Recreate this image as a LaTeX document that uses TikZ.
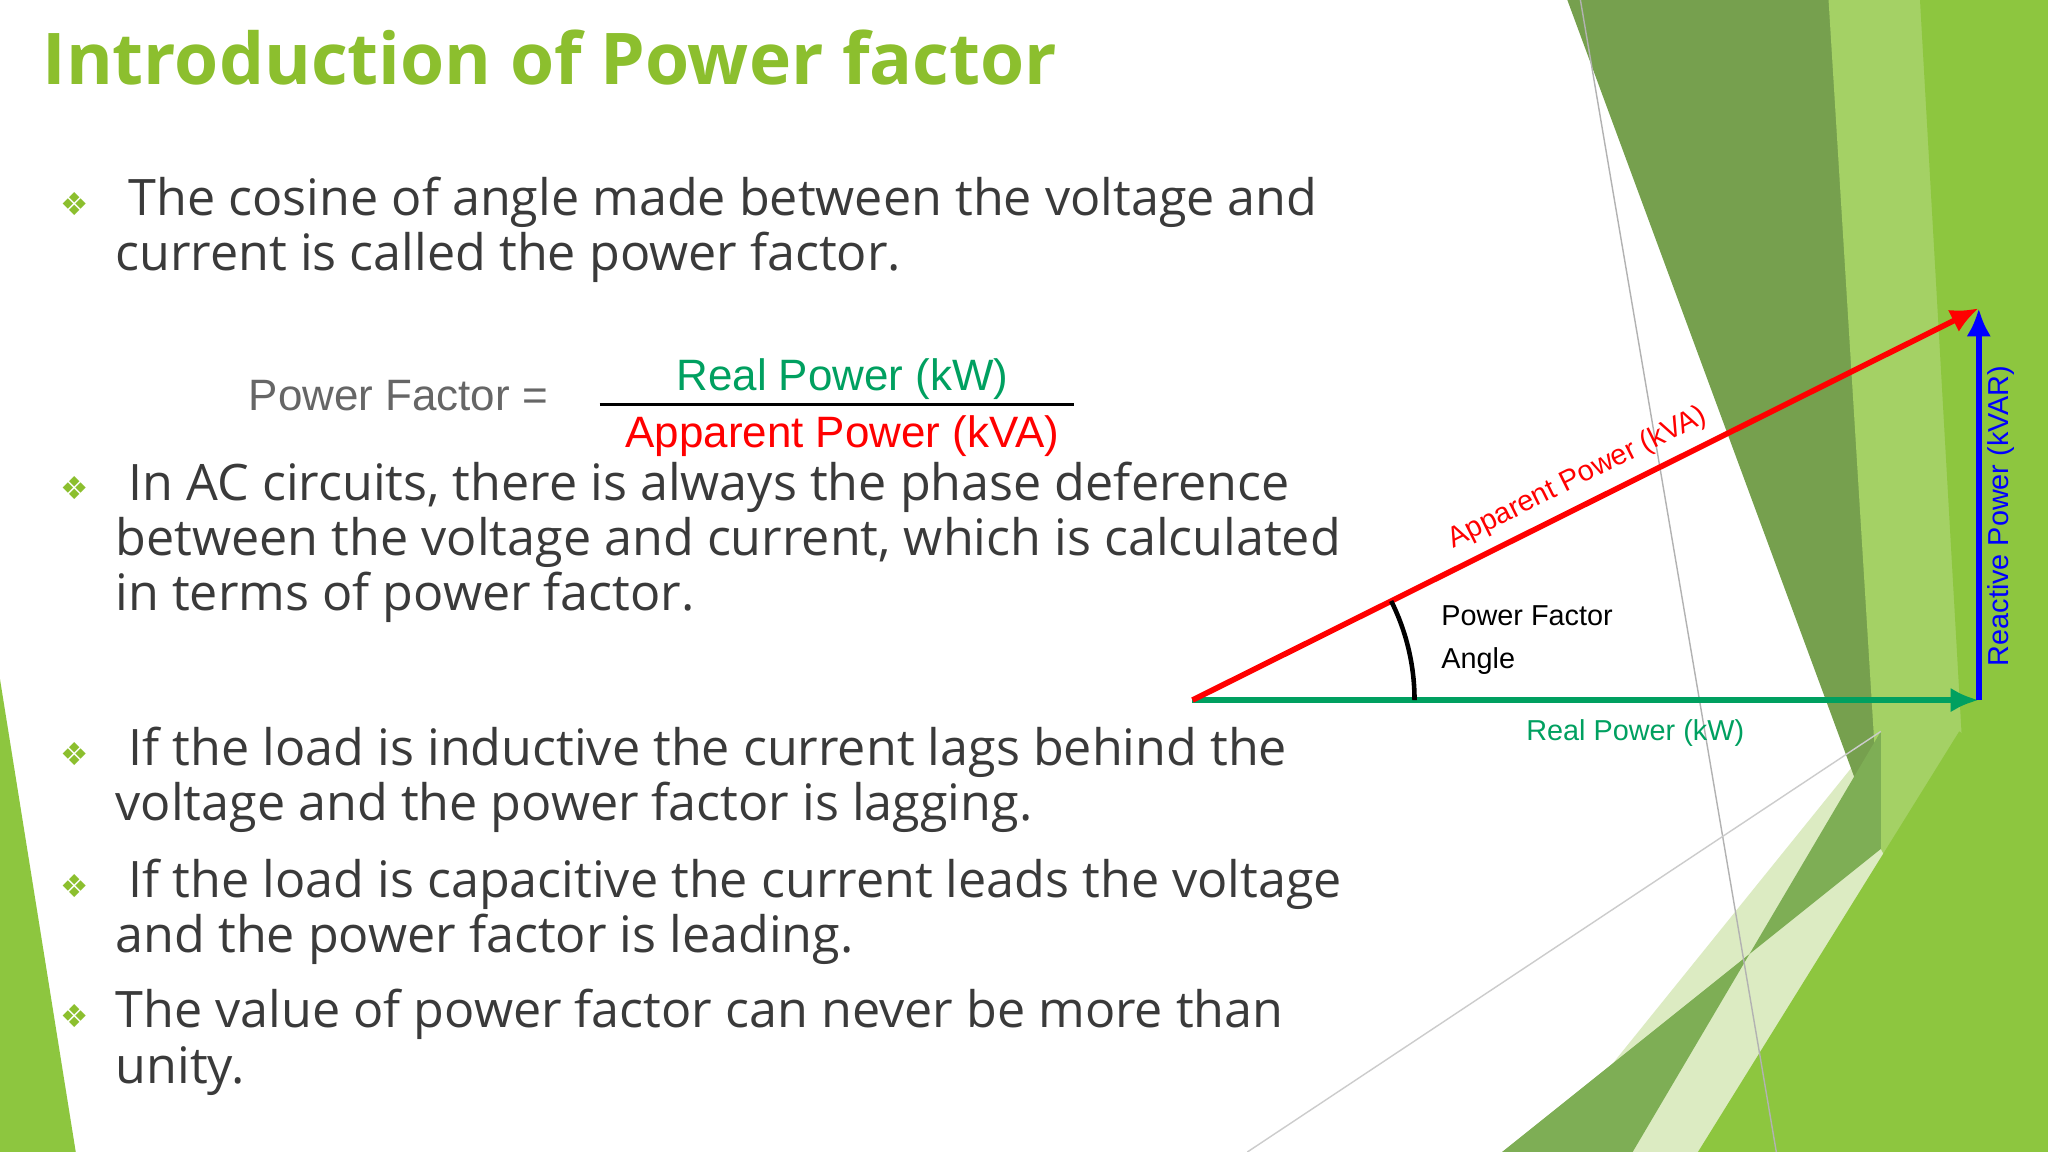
\documentclass[tikz,border=0pt]{standalone}
\usepackage{fontspec}
\usetikzlibrary{arrows.meta}
\setmainfont{Open Sans}
\newfontfamily\arialf{Liberation Sans}
\newfontfamily\dejavu{DejaVu Sans}
\definecolor{titlegreen}{HTML}{8CBF2E}
\definecolor{bodygray}{HTML}{3A3A3A}
\definecolor{pgreen}{HTML}{00A060}
\definecolor{dgreen}{HTML}{76A04E}
\definecolor{bgreen}{HTML}{8DC63F}
\definecolor{lgreen}{HTML}{C5DE9A}
\definecolor{mgreen}{HTML}{5E9A2A}
\tikzset{
  body/.style={anchor=north west,align=left,text=bodygray,font=\fontsize{14.3}{15.7}\selectfont,inner sep=0pt},
  bul/.style={text=titlegreen,font=\dejavu\fontsize{9}{9}\selectfont,inner sep=0pt},
  dlab/.style={font=\arialf\fontsize{8.2}{9}\selectfont,inner sep=0pt},
  flab/.style={font=\arialf\fontsize{12.5}{14}\selectfont,inner sep=0pt}
}
\begin{document}
\begin{tikzpicture}[x=0.013061cm,y=-0.013061cm]
\useasboundingbox (0,0) rectangle (1568,882);
\fill[white] (0,0) rectangle (1568,882);
% decorations right
\fill[lgreen!60] (1180,882) -- (1440,560) -- (1568,500) -- (1568,882) -- cycle;
\fill[dgreen] (1200,0) -- (1430,0) -- (1440,650) -- cycle;
\fill[bgreen!80] (1400,0) -- (1568,0) -- (1568,882) -- (1440,650) -- cycle;
\fill[bgreen] (1470,0) -- (1568,0) -- (1568,882) -- (1520,882) -- cycle;
\fill[mgreen!80] (1440,560) -- (1440,650) -- (1150,882) -- (1250,882) -- cycle;
\fill[bgreen] (1300,882) -- (1500,560) -- (1568,600) -- (1568,882) -- cycle;
\draw[gray!60,thin] (1210,0) -- (1360,882);
\draw[gray!40,thin] (955,882) -- (1440,560);
% left deco
\fill[bgreen] (0,520) -- (58,882) -- (0,882) -- cycle;
% title
\node[anchor=west,text=titlegreen,font=\bfseries\fontsize{20.3}{24}\selectfont,inner sep=0pt] (title) at (32,44) {Introduction of Power factor};
% bullets
\node[bul] (b1) at (57,156) {❖};
\node[body] (t1) at (88,135) {\ The cosine of angle made between the voltage and\\current is called the power factor.};
\node[bul] (b2) at (57,374) {❖};
\node[body] (t2) at (88,353) {\ In AC circuits, there is always the phase deference\\between the voltage and current, which is calculated\\in terms of power factor.};
\node[bul] (b3) at (57,577) {❖};
\node[body] (t3) at (88,556) {\ If the load is inductive the current lags behind the\\voltage and the power factor is lagging.};
\node[bul] (b4) at (57,678) {❖};
\node[body] (t4) at (88,657) {\ If the load is capacitive the current leads the voltage\\and the power factor is leading.};
\node[bul] (b5) at (57,778) {❖};
\node[body] (t5) at (88,757) {The value of power factor can never be more than\\unity.};
% formula
\node[flab,text=gray!80!black] (pf) at (305,303) {Power Factor =};
\node[flab,text=pgreen] (num) at (645,290) {Real Power (kW)};
\node[flab,text=red] (den) at (645,334) {Apparent Power (kVA)};
\coordinate (fl) at (459,310); \coordinate (fr) at (822,310);
\draw[line width=0.8pt] (fl) -- (fr);
% diagram
\coordinate (O) at (913,536);
\coordinate (X) at (1515,536);
\coordinate (T) at (1515,236);
\draw[pgreen,line width=1.6pt,-{Latex[length=8pt,width=7pt]}] (O) -- (X);
\draw[blue,line width=1.6pt,-{Latex[length=8pt,width=7pt]}] (X) -- (T);
\draw[red,line width=1.6pt,-{Latex[length=8pt,width=7pt]}] (O) -- (T);
\draw[line width=1.3pt] (1083,536) arc[start angle=0,end angle=-26.5,radius=170];
\node[dlab,anchor=west,align=left] (ang) at (1103,490) {Power Factor\\[3pt]Angle};
\node[dlab,text=pgreen] (rp) at (1252,561) {Real Power (kW)};
\node[dlab,text=red,rotate=26.5] (ap) at (1208,366) {Apparent Power (kVA)};
\node[dlab,text=blue,rotate=90] (rq) at (1532,395) {Reactive Power (kVAR)};
\end{tikzpicture}
\end{document}
